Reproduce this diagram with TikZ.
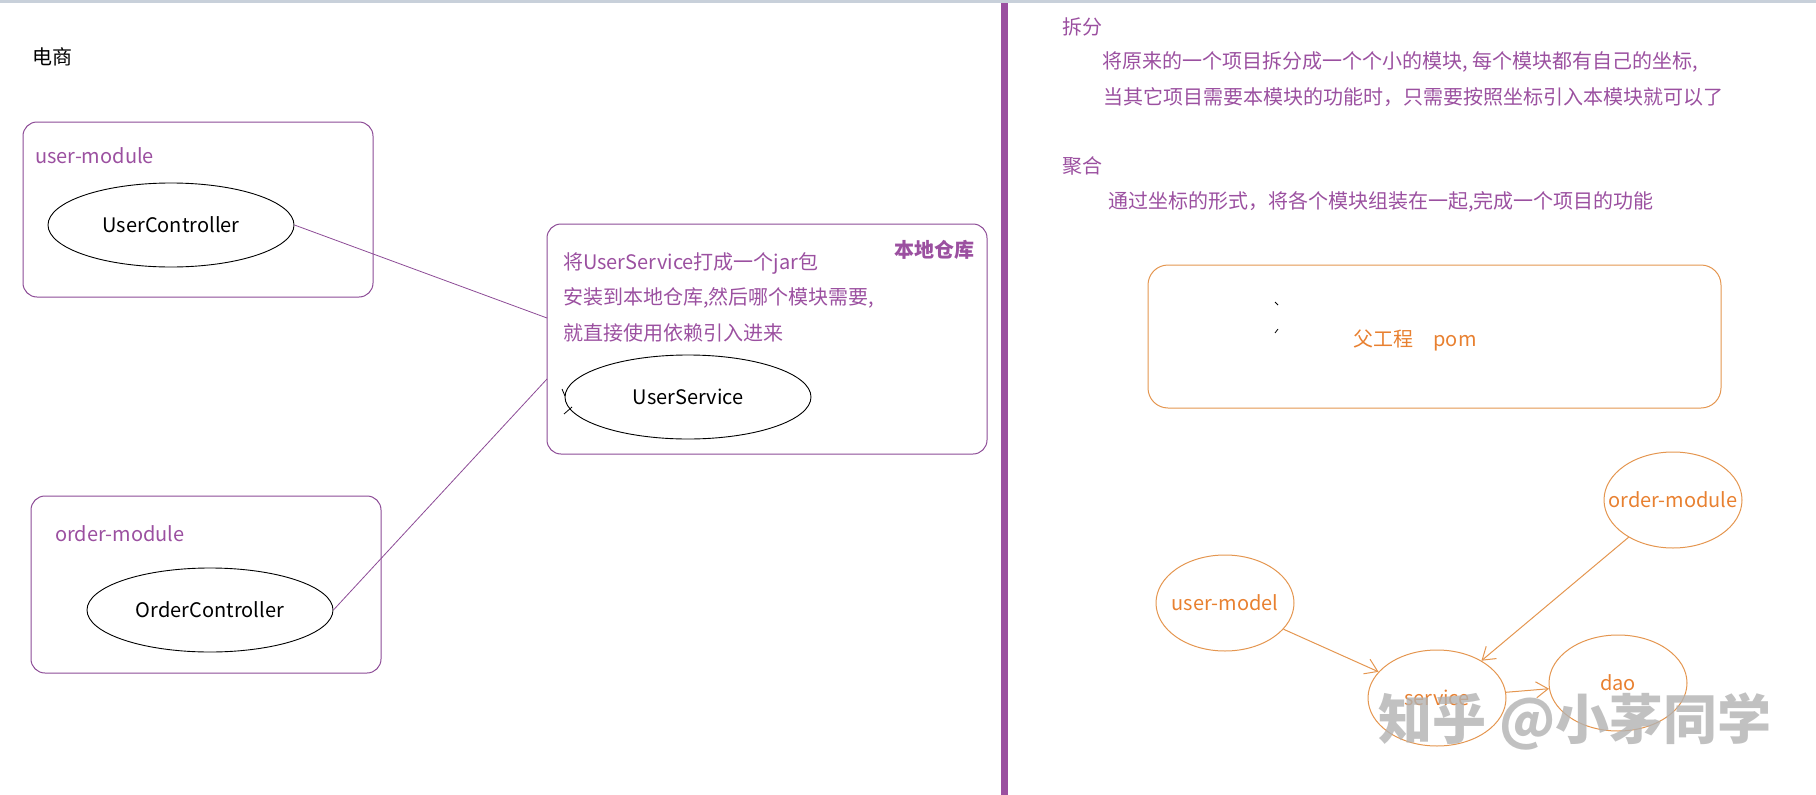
\documentclass[tikz,border=0pt]{standalone}
\usepackage{fontspec}
\setmainfont{Noto Sans CJK SC}
\usetikzlibrary{shapes.geometric,arrows.meta}
\definecolor{zpurple}{RGB}{155,80,160}
\definecolor{zbox}{RGB}{140,75,150}
\definecolor{zorange}{RGB}{232,128,48}
\definecolor{zorline}{RGB}{228,150,80}
\definecolor{ztop}{RGB}{200,208,218}
\tikzset{>={Straight Barb[length=12pt,width=16pt]}}
\tikzset{
  modbox/.style={draw=zbox, line width=1pt, rounded corners=14pt},
  cls/.style={ellipse, draw, line width=0.9pt, minimum width=246pt, minimum height=84pt, inner sep=0pt},
  txt/.style={anchor=west, inner sep=0pt, text=zpurple},
  mcirc/.style={ellipse, draw=zorline, line width=1pt, minimum width=138pt, minimum height=96pt, inner sep=0pt,
    label={[text=zorange, inner sep=0pt]center:#1}}
}

\begin{document}
\begin{tikzpicture}[x=1pt, y=-1pt, font=\fontsize{20}{24}\selectfont]
    \useasboundingbox (0,0) rectangle (1816,795);
    \fill[ztop] (0,0) rectangle (1816,3);
    \fill[zpurple] (1001,3) rectangle (1008,795);
    \node[anchor=west, inner sep=0pt] (title) at (32,57) {电商};
    \node[modbox, minimum width=350pt, minimum height=175pt] (ubox) at (198,209.5) {};
    \node[txt] (ulabel) at (35,156) {user-module};
    \node[cls] (uctrl) at (171,225) {UserController};
    \node[modbox, minimum width=350pt, minimum height=177pt] (obox) at (206,584.5) {};
    \node[txt] (olabel) at (55,534) {order-module};
    \node[cls] (octrl) at (210,610) {OrderController};
    \node[modbox, minimum width=440pt, minimum height=230pt] (repo) at (767,339) {};
    \node[txt, anchor=center, font=\fontsize{20}{24}\selectfont\bfseries] (reponame) at (934,250) {本地仓库};
    \node[txt] (note1) at (563,263) {将UserService打成一个jar包};
    \node[txt] (note2) at (563,298) {安装到本地仓库,然后哪个模块需要,};
    \node[txt] (note3) at (563,333) {就直接使用依赖引入进来};
    \node[cls] (usvc) at (688,397) {UserService};
    \coordinate (in1) at (547,318);
    \coordinate (in2) at (547,379);
    \draw[zbox, line width=0.8pt] (uctrl.east) -- (in1);
    \draw[zbox, line width=0.8pt] (octrl.east) -- (in2);
    \draw[line width=0.8pt] (562,389) -- (565,396) (564,414) -- (572,407);

    \node[txt] (split) at (1062,27) {拆分};
    \node[txt] (split1) at (1102,62) {将原来的一个项目拆分成一个个小的模块, 每个模块都有自己的坐标,};
    \node[txt] (split2) at (1103,97) {当其它项目需要本模块的功能时，只需要按照坐标引入本模块就可以了};
    \node[txt] (merge) at (1062,166) {聚合};
    \node[txt] (merge1) at (1108,202) {通过坐标的形式，将各个模块组装在一起,完成一个项目的功能};
    \node[draw=zorline, line width=1pt, rounded corners=20pt, minimum width=573pt, minimum height=143pt] (parent) at (1434.5,336.5) {};
    \node[text=zorange, inner sep=0pt] (pom) at (1415,340) {父工程\quad pom};
    \draw[line width=0.8pt] (1275,302) -- (1278,305) (1275,333) -- (1278,329);
    \node[mcirc=order-module] (omod) at (1673,500) {};
    \node[mcirc=user-model] (umod) at (1225,603) {};
    \node[mcirc=service] (svc) at (1437,698) {};
    \node[mcirc=dao] (dao) at (1618,683) {};
    \draw[zorline, line width=1pt, ->] (umod) -- (svc);
    \draw[zorline, line width=1pt, ->] (omod) -- (svc);
    \draw[zorline, line width=1pt, ->] (svc) -- (dao);
    \node[text=gray!60, opacity=0.8, font=\fontsize{54}{60}\selectfont\bfseries] (wm) at (1575,722) {知乎 @小茅同学};
\end{tikzpicture}
\end{document}
